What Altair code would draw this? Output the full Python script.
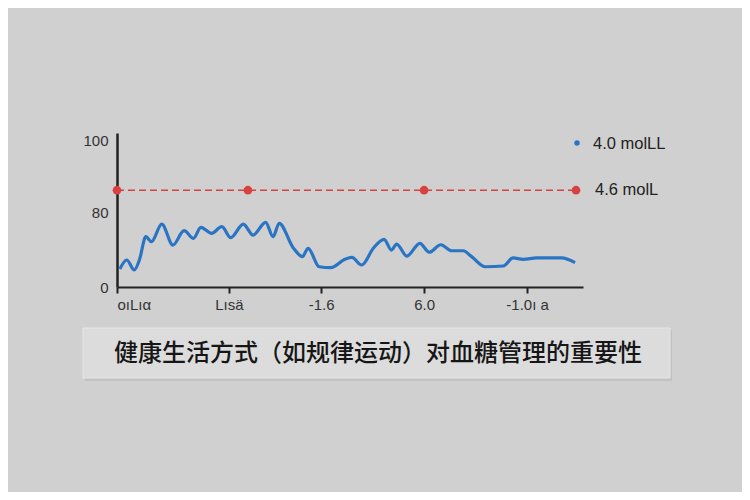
import altair as alt
import pandas as pd

# ---- data ----
x_pos = [0.6, 2.1, 3.7, 4.8, 6.2, 7.4, 9.6, 12.0, 14.4, 16.4, 18.0, 20.3, 22.5, 24.4,
         27.1, 29.2, 31.9, 33.5, 34.8, 37.8, 39.8, 41.0, 43.4, 45.9, 48.9, 50.4, 52.5,
         55.0, 57.3, 58.9, 60.0, 62.2, 65.0, 67.0, 69.5, 71.8, 74.3, 76.1, 79.0, 82.9,
         85.0, 87.2, 90.1, 95.4, 98.3]
glucose = [12.3, 18.4, 11.6, 18.4, 34.3, 30.9, 42.9, 28.6, 38.4, 33.2, 40.7, 36.6, 41.1,
           33.6, 42.9, 35.4, 44.1, 34.3, 43.4, 26.8, 20.7, 26.4, 13.8, 13.2, 18.9, 20.2,
           15.0, 26.4, 32.5, 25.2, 29.3, 21.1, 29.8, 23.7, 28.8, 24.7, 24.7, 20.7, 13.8,
           14.3, 19.8, 18.9, 19.8, 19.8, 16.6]
ref_x = [0, 28.1, 65.9, 98.5]
ref_level = [66, 66, 66, 66]
x_tick_values = [0, 24.0, 43.8, 65.9, 88.0]
x_tick_labels = ["oıLıα", "Lısä", "-1.6", "6.0", "-1.0ı a"]
y_tick_values = [0, 51, 100]
y_tick_labels = ["0", "80", "100"]
legend_labels = ["4.0 molLL", "4.6 molL"]
title_text = "健康生活方式（如规律运动）对血糖管理的重要性"

BLUE = "#2a74c4"
RED = "#d94040"
FONT = "Liberation Sans"

def label_expr(values, labels):
    expr = "''"
    for v, l in reversed(list(zip(values, labels))):
        expr = f"datum.value == {v} ? '{l}' : ({expr})"
    return expr

line_df = pd.DataFrame({"x": x_pos, "y": glucose})
ref_df = pd.DataFrame({"x": ref_x, "y": ref_level})
one = pd.DataFrame({"t": [title_text]})

x_scale = alt.Scale(domain=[0, 100], nice=False, zero=False)
y_scale = alt.Scale(domain=[0, 105], nice=False)

x_axis = alt.Axis(values=x_tick_values, labelExpr=label_expr(x_tick_values, x_tick_labels),
                  title=None, grid=False, domainColor="#222", domainWidth=2,
                  tickColor="#222", tickWidth=2, tickSize=6, labelFontSize=15,
                  labelColor="#333", labelFont=FONT, labelPadding=4)
y_axis = alt.Axis(values=y_tick_values, labelExpr=label_expr(y_tick_values, y_tick_labels),
                  title=None, grid=False, domainColor="#222", domainWidth=2.5,
                  ticks=False, labelFontSize=15, labelColor="#333", labelFont=FONT,
                  labelPadding=9)

blue = alt.Chart(line_df).mark_line(color=BLUE, strokeWidth=3.2, interpolate="monotone").encode(
    x=alt.X("x:Q", scale=x_scale, axis=x_axis),
    y=alt.Y("y:Q", scale=y_scale, axis=y_axis),
)
red_line = alt.Chart(ref_df).mark_line(color=RED, strokeWidth=1.5, strokeDash=[7, 4]).encode(
    x=alt.X("x:Q", scale=x_scale), y=alt.Y("y:Q", scale=y_scale))
red_pts = alt.Chart(ref_df).mark_point(color=RED, filled=True, opacity=1, size=75).encode(
    x=alt.X("x:Q", scale=x_scale), y=alt.Y("y:Q", scale=y_scale))

shadow = alt.Chart(one).mark_rect(color="#c2c2c2").encode(
    x=alt.value(-32), x2=alt.value(555), y=alt.value(197), y2=alt.value(248))
box = alt.Chart(one).mark_rect(color="#dcdcdc", stroke="#e6e6e6", strokeWidth=1).encode(
    x=alt.value(-34), x2=alt.value(553), y=alt.value(195), y2=alt.value(245))
title = alt.Chart(one).mark_text(fontSize=24, font="Noto Sans CJK SC", fontWeight=500,
                                 color="#161616", align="center", baseline="middle").encode(
    x=alt.value(261), y=alt.value(221), text="t:N")

leg_df1 = pd.DataFrame({"t": [legend_labels[0]]})
leg_df2 = pd.DataFrame({"t": [legend_labels[1]]})
leg_dot = alt.Chart(leg_df1).mark_point(color=BLUE, filled=True, opacity=1, size=30).encode(
    x=alt.value(460), y=alt.value(10))
leg_t1 = alt.Chart(leg_df1).mark_text(fontSize=16.5, font=FONT, color="#222", align="left",
                                      baseline="middle").encode(
    x=alt.value(476), y=alt.value(11), text="t:N")
leg_t2 = alt.Chart(leg_df2).mark_text(fontSize=16.5, font=FONT, color="#222", align="left",
                                      baseline="middle").encode(
    x=alt.value(478), y=alt.value(57), text="t:N")

chart = alt.layer(shadow, box, title, red_line, blue, red_pts, leg_dot, leg_t1, leg_t2).properties(
    width=466, height=154,
    autosize=alt.AutoSizeParams(type="none"),
    padding={"left": 109, "top": 125, "right": 159, "bottom": 205},
    background="#d0d0d0",
).configure_view(stroke=None)

chart.save("out.html", embed_options={"renderer": "svg", "actions": False})
